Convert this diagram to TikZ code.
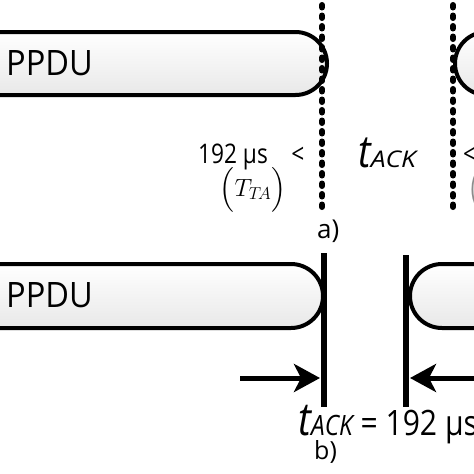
\documentclass[tikz,border=0pt]{standalone}
\usepackage{amsmath}
\usepackage{graphicx}
\usepackage{fontspec}
\setmainfont{Open Sans}
\usetikzlibrary{arrows.meta}
\newcommand\mySx[3]{\scalebox{#1}[1]{\fontsize{#2}{#2}\selectfont #3}}
\begin{document}
\begin{tikzpicture}[x=1pt,y=1pt,
  frame/.style={line width=4pt, draw=black, top color=white, bottom color=black!9},
  dotline/.style={line width=6pt, line cap=round, dash pattern=on 2.5pt off 8pt},
  bar/.style={line width=6pt},
  arr/.style={line width=5pt, -{Stealth[length=26pt,width=28pt,inset=7pt]}},
  lbl/.style={inner sep=0pt},
]
\useasboundingbox (0,0) rectangle (474,-474);
\clip (0,0) rectangle (474,-474);
\fill[white] (0,0) rectangle (474,-474);

% ---- a) ----
\path[frame] (-20,-32) -- (295.5,-32) arc[start angle=90,end angle=-90,radius=31.5] -- (-20,-95) -- cycle;
\path[frame] (520,-32) -- (486.5,-32) arc[start angle=90,end angle=270,radius=31.5] -- (520,-95) -- cycle;
\node[lbl, anchor=base west] (ppduA) at (6,-75) {\mySx{.93}{35}{PPDU}};

\coordinate (d1t) at (322,-5);
\coordinate (d1b) at (322,-212);
\coordinate (d2t) at (453,-5);
\coordinate (d2b) at (453,-212);
\draw[dotline] (d1t) -- (d1b);
\draw[dotline] (d2t) -- (d2b);

\node[lbl, anchor=base west] (lowA) at (198,-163) {\mySx{.84}{27}{192 µs\hspace{28pt}<}};
\node[lbl] (tta) at (253,-190) {\fontsize{25}{25}\selectfont$\Bigl(T_{T\!A}\Bigr)$};
\node[lbl, anchor=base west] (tackA) at (358,-167) {\mySx{.85}{45}{\itshape t}\mySx{1.15}{23}{\itshape ACK}};
\node[lbl, anchor=base west] (ltB) at (463,-163) {\mySx{.84}{27}{<}};
\node[lbl, anchor=west, text=black!45] (parB) at (467,-190) {\fontsize{25}{25}\selectfont$\Bigl($};
\node[lbl, anchor=base west] (labA) at (317,-238) {\mySx{1}{26}{a)}};

% ---- b) ----
\path[frame] (-20,-264) -- (291,-264) arc[start angle=90,end angle=-90,radius=32] -- (-20,-328) -- cycle;
\path[frame] (520,-264) -- (442,-264) arc[start angle=90,end angle=270,radius=32] -- (520,-328) -- cycle;
\node[lbl, anchor=base west] (ppduB) at (6,-307) {\mySx{.93}{35}{PPDU}};

\coordinate (b1t) at (324,-253);
\coordinate (b1b) at (324,-407);
\coordinate (b2t) at (406,-255);
\coordinate (b2b) at (406,-407);
\draw[bar] (b1t) -- (b1b);
\draw[bar] (b2t) -- (b2b);

\coordinate (a1s) at (240,-378);
\coordinate (a1e) at (320,-378);
\coordinate (a2s) at (480,-378);
\coordinate (a2e) at (410,-378);
\draw[arr] (a1s) -- (a1e);
\draw[arr] (a2s) -- (a2e);

\node[lbl, anchor=base west] (tackB) at (298,-435) {\mySx{.85}{46}{\itshape t}\mySx{.87}{28}{\itshape ACK}\mySx{.86}{35}{ = 192 µs}};
\node[lbl, anchor=base west] (labB) at (314,-459) {\mySx{1}{25}{b)}};
\end{tikzpicture}
\end{document}
